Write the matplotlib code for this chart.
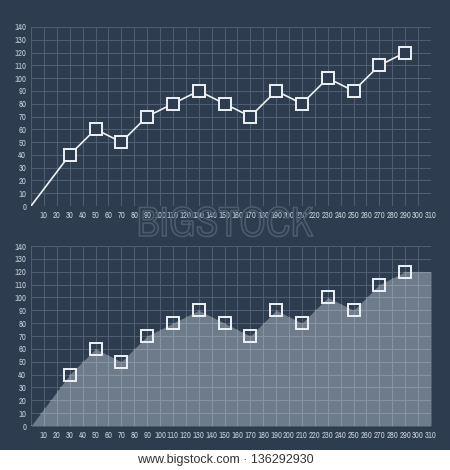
import matplotlib
matplotlib.use("Agg")
import matplotlib.pyplot as plt
import matplotlib.patheffects as pe
from matplotlib import font_manager

# data
x_vals = [0, 30, 50, 70, 90, 110, 130, 150, 170, 190, 210, 230, 250, 270, 290]
y_vals = [0, 40, 60, 50, 70, 80, 90, 80, 70, 90, 80, 100, 90, 110, 120]
area_x = x_vals + [310]
area_y = y_vals + [120]
x_ticks = list(range(10, 320, 10))
y_ticks = list(range(0, 150, 10))

bg        = "#2d3c4f"
grid_col  = "#4d5e71"
area_col  = "#6e7b8b"
area_grid = "#8793a1"
white     = "#eef1f4"
tick_col  = "#c3ccd6"

# look for a narrow face, the tick labels in the reference are condensed
names = sorted({f.name for f in font_manager.fontManager.ttflist})
narrow = [n for n in names if "Narrow" in n or "Condensed" in n]
tick_font = narrow[0] if narrow else "DejaVu Sans"
tick_size = 6.2 if narrow else 4.6

fig = plt.figure(figsize=(4.5, 4.7), dpi=100, facecolor=bg)
fig.patches.append(plt.Rectangle((0, 0), 1, 20 / 470, transform=fig.transFigure,
                                 facecolor="white", edgecolor="none"))

W, H = 450, 470
def place(l, t, r, b):
    return [l / W, 1 - b / H, (r - l) / W, (b - t) / H]

ax1 = fig.add_axes(place(31, 27, 431, 206))
ax2 = fig.add_axes(place(31, 246, 431, 426))

def setup(ax):
    ax.set_facecolor(bg)
    ax.set_xlim(0, 310)
    ax.set_ylim(0, 140)
    for v in range(0, 320, 10):
        ax.axvline(v, color=grid_col, lw=0.8, zorder=1)
    for v in y_ticks:
        ax.axhline(v, color=grid_col, lw=0.8, zorder=1)
    ax.set_xticks(x_ticks)
    ax.set_yticks(y_ticks)
    ax.tick_params(length=0, labelsize=tick_size, colors=tick_col, pad=3.5)
    for lab in ax.get_xticklabels() + ax.get_yticklabels():
        lab.set_family(tick_font)
    for s in ax.spines.values():
        s.set_visible(False)

setup(ax1)
ax1.plot(x_vals, y_vals, color=white, lw=1.2, zorder=3)
ax1.plot(x_vals[1:], y_vals[1:], ls="none", marker="s", ms=8, mfc=bg,
         mec=white, mew=1.4, zorder=4)

setup(ax2)
area = ax2.fill_between(area_x, area_y, 0, color=area_col, lw=0, zorder=2)
# lighter grid where it sits over the area
clip_path = area.get_paths()[0]
for v in range(0, 320, 10):
    ln = ax2.axvline(v, color=area_grid, lw=0.8, zorder=2.5)
    ln.set_clip_path(clip_path, ax2.transData)
for v in y_ticks:
    ln = ax2.axhline(v, color=area_grid, lw=0.8, zorder=2.5)
    ln.set_clip_path(clip_path, ax2.transData)
ax2.plot(x_vals[1:], y_vals[1:], ls="none", marker="s", ms=8, mfc="none",
         mec=white, mew=1.4, zorder=4)

# watermark and footer
wm = fig.text(0.5, 1 - 224 / H, "BIGSTOCK", ha="center", va="center", fontsize=30,
              fontweight="bold", family=tick_font, color="none", zorder=5)
wm.set_path_effects([pe.withStroke(linewidth=1.2, foreground="#4b5c70")])
fig.text(0.5, 10 / H, "www.bigstock.com \u00b7 136292930", ha="center", va="center",
         fontsize=9, color="#333333", family=["Liberation Sans", "DejaVu Sans"])

fig.savefig("out.png", dpi=100, facecolor=bg)
